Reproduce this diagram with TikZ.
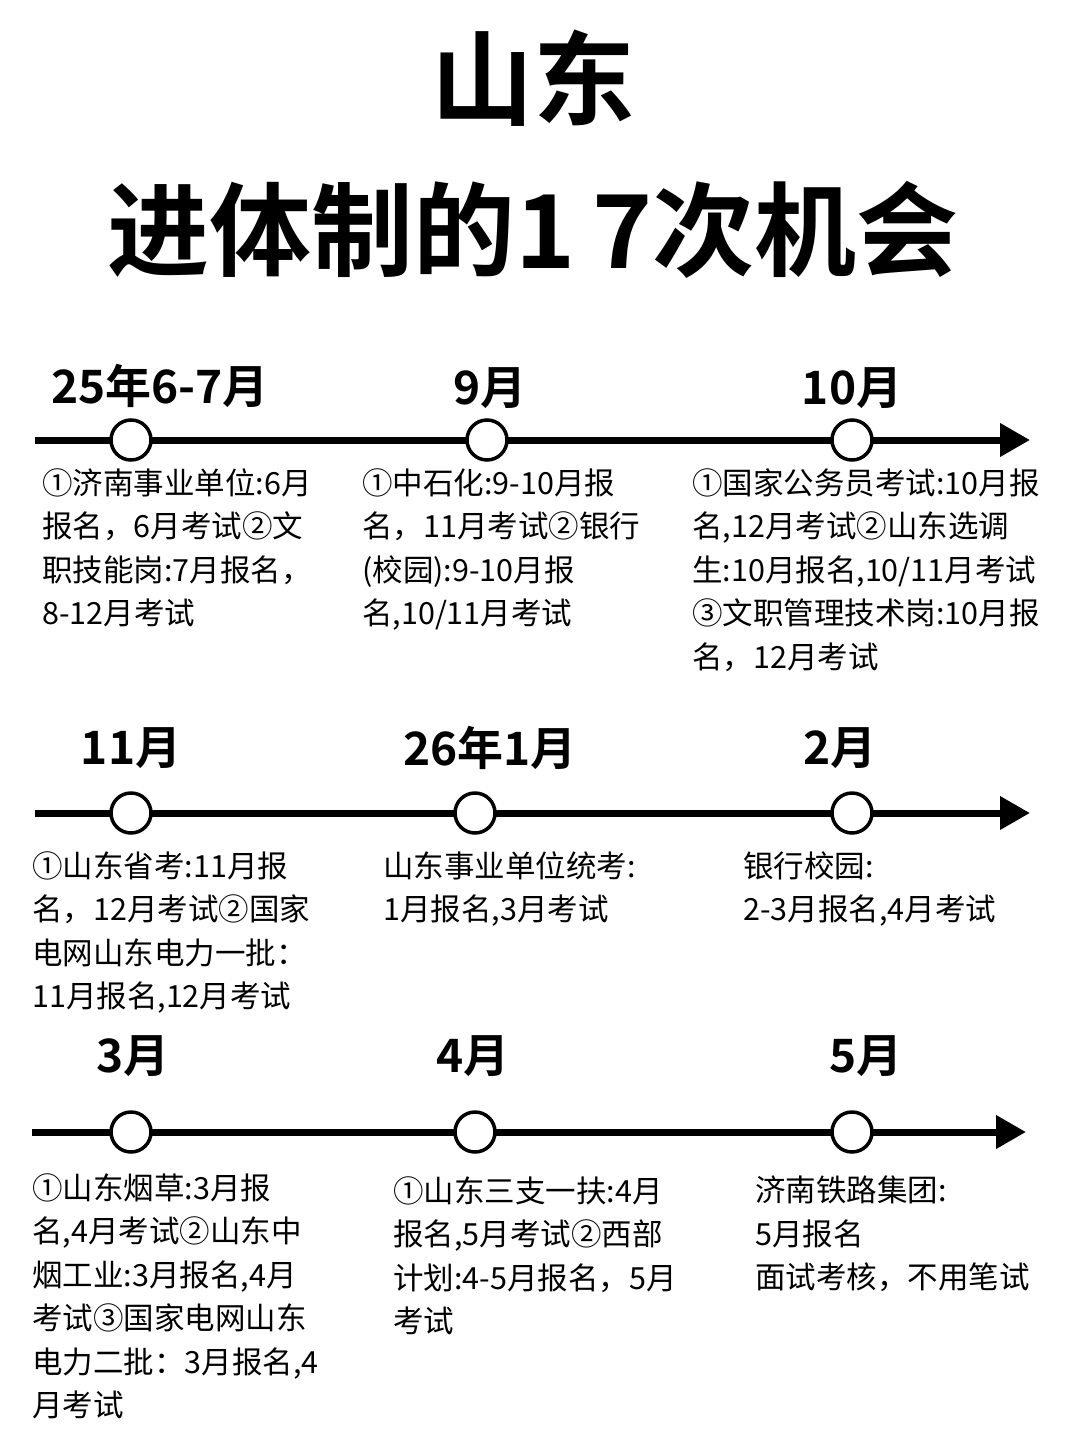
\documentclass[tikz,border=0pt]{standalone}
\usepackage{fontspec}
\setmainfont{Noto Sans CJK SC}
\newfontfamily\boldcjk{Noto Sans CJK SC Bold}
\usetikzlibrary{arrows.meta}
\begin{document}
\begin{tikzpicture}[x=1pt,y=-1pt,
  tl/.style={line width=7pt,-{Triangle[length=30pt,width=32pt]}},
  dot/.style={circle,draw,line width=3.5pt,fill=white,minimum size=40pt,inner sep=0},
  mon/.style={font=\boldcjk\fontsize{46}{50}\selectfont},
  body/.style={anchor=north west,inner sep=0,align=left,font=\fontsize{30.5}{43.5}\selectfont},
  ttl/.style={font=\boldcjk\fontsize{102}{110}\selectfont}]
\useasboundingbox[fill=white] (0,0) rectangle (1080,1443);
\node[ttl] (t1) at (533,78) {山东};
\node[ttl] (t2) at (533,230) {进体制的1\,7次机会};
% row 1
\coordinate (s1) at (35,440); \coordinate (e1) at (1030,440);
\draw[tl] (s1) -- (e1);
\node[dot] (c11) at (131,440) {}; \node[dot] (c12) at (487,440) {}; \node[dot] (c13) at (852,440) {};
\node[mon] (m11) at (160,386) {25年6-7月};
\node[mon] (m12) at (490,388) {9月};
\node[mon] (m13) at (852,388) {10月};
\node[body] (b11) at (42,468) {①济南事业单位:6月\\报名，6月考试②文\\职技能岗:7月报名，\\8-12月考试};
\node[body] (b12) at (362,468) {①中石化:9-10月报\\名，11月考试②银行\\(校园):9-10月报\\名,10/11月考试};
\node[body] (b13) at (692,468) {①国家公务员考试:10月报\\名,12月考试②山东选调\\生:10月报名,10/11月考试\\③文职管理技术岗:10月报\\名，12月考试};
% row 2
\coordinate (s2) at (35,813); \coordinate (e2) at (1030,813);
\draw[tl] (s2) -- (e2);
\node[dot] (c21) at (131,813) {}; \node[dot] (c22) at (475,813) {}; \node[dot] (c23) at (852,813) {};
\node[mon] (m21) at (131,748) {11月};
\node[mon] (m22) at (490,748) {26年1月};
\node[mon] (m23) at (840,748) {2月};
\node[body] (b21) at (32,851) {①山东省考:11月报\\名，12月考试②国家\\电网山东电力一批：\\11月报名,12月考试};
\node[body] (b22) at (383,851) {山东事业单位统考:\\1月报名,3月考试};
\node[body] (b23) at (743,851) {银行校园:\\2-3月报名,4月考试};
% row 3
\coordinate (s3) at (32,1132); \coordinate (e3) at (1026,1132);
\draw[tl] (s3) -- (e3);
\node[dot] (c31) at (131,1132) {}; \node[dot] (c32) at (475,1132) {}; \node[dot] (c33) at (852,1132) {};
\node[mon] (m31) at (133,1056) {3月};
\node[mon] (m32) at (473,1056) {4月};
\node[mon] (m33) at (866,1056) {5月};
\node[body] (b31) at (32,1173) {①山东烟草:3月报\\名,4月考试②山东中\\烟工业:3月报名,4月\\考试③国家电网山东\\电力二批：3月报名,4\\月考试};
\node[body] (b32) at (393,1176) {①山东三支一扶:4月\\报名,5月考试②西部\\计划:4-5月报名，5月\\考试};
\node[body] (b33) at (755,1176) {济南铁路集团:\\5月报名\\面试考核，不用笔试};
\end{tikzpicture}
\end{document}
